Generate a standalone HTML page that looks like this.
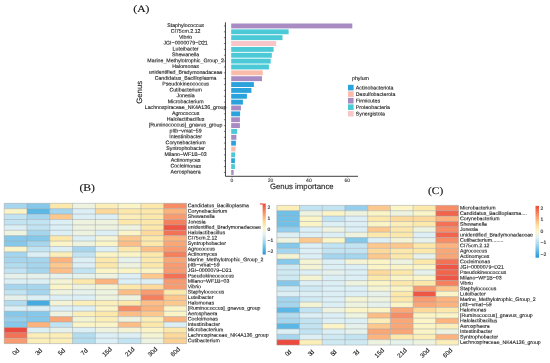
<!DOCTYPE html>
<html><head><meta charset="utf-8"><title>Figure</title>
<style>html,body{margin:0;padding:0;background:#fff}svg{display:block}text{text-rendering:geometricPrecision;font-family:"Liberation Sans",sans-serif;fill:#1c1c1c;stroke:#1c1c1c;stroke-width:0.12px}.s{font-family:"Liberation Serif",serif;fill:#111;stroke:#111;stroke-width:0.15px}</style></head><body>
<svg width="550" height="363" viewBox="0 0 550 363">
<rect width="550" height="363" fill="#fff"/>
<text class="s" transform="translate(133.3,12.0) scale(1,0.85)" font-size="11.6">(A)</text>
<text class="s" transform="translate(79.4,191.1) scale(1,0.87)" font-size="11.7">(B)</text>
<text class="s" transform="translate(428,194.1) scale(1,0.9)" font-size="11.4">(C)</text>
<g>
<rect x="231.2" y="23.50" width="121.1" height="4.9" fill="#A88BC3"/>
<text x="185.6" y="27.00" transform="rotate(0.03 185.6 27.00)" font-size="5.25" text-anchor="middle">Staphylococcus</text>
<line x1="223.9" x2="225.4" y1="25.95" y2="25.95" stroke="#333" stroke-width="0.6"/>
<rect x="231.2" y="29.36" width="57.4" height="4.9" fill="#4CC9D6"/>
<text x="185.6" y="32.86" transform="rotate(0.03 185.6 32.86)" font-size="5.25" text-anchor="middle">CI75cm.2.12</text>
<line x1="223.9" x2="225.4" y1="31.81" y2="31.81" stroke="#333" stroke-width="0.6"/>
<rect x="231.2" y="35.22" width="51.3" height="4.9" fill="#4CC9D6"/>
<text x="185.6" y="38.72" transform="rotate(0.03 185.6 38.72)" font-size="5.25" text-anchor="middle">Vibrio</text>
<line x1="223.9" x2="225.4" y1="37.67" y2="37.67" stroke="#333" stroke-width="0.6"/>
<rect x="231.2" y="41.08" width="45.0" height="4.9" fill="#F8C5C8"/>
<text x="185.6" y="44.58" transform="rotate(0.03 185.6 44.58)" font-size="5.25" text-anchor="middle">JGI−0000079−D21</text>
<line x1="223.9" x2="225.4" y1="43.53" y2="43.53" stroke="#333" stroke-width="0.6"/>
<rect x="231.2" y="46.94" width="42.4" height="4.9" fill="#4CC9D6"/>
<text x="185.6" y="50.44" transform="rotate(0.03 185.6 50.44)" font-size="5.25" text-anchor="middle">Luteibacter</text>
<line x1="223.9" x2="225.4" y1="49.39" y2="49.39" stroke="#333" stroke-width="0.6"/>
<rect x="231.2" y="52.80" width="40.6" height="4.9" fill="#4CC9D6"/>
<text x="185.6" y="56.30" transform="rotate(0.03 185.6 56.30)" font-size="5.25" text-anchor="middle">Shewanella</text>
<line x1="223.9" x2="225.4" y1="55.25" y2="55.25" stroke="#333" stroke-width="0.6"/>
<rect x="231.2" y="58.66" width="39.5" height="4.9" fill="#4CC9D6"/>
<text x="185.6" y="62.16" transform="rotate(0.03 185.6 62.16)" font-size="5.25" text-anchor="middle">Marine_Methylotrophic_Group_2</text>
<line x1="223.9" x2="225.4" y1="61.11" y2="61.11" stroke="#333" stroke-width="0.6"/>
<rect x="231.2" y="64.52" width="37.7" height="4.9" fill="#4CC9D6"/>
<text x="185.6" y="68.02" transform="rotate(0.03 185.6 68.02)" font-size="5.25" text-anchor="middle">Halomonas</text>
<line x1="223.9" x2="225.4" y1="66.97" y2="66.97" stroke="#333" stroke-width="0.6"/>
<rect x="231.2" y="70.38" width="31.6" height="4.9" fill="#FABBAA"/>
<text x="185.6" y="73.88" transform="rotate(0.03 185.6 73.88)" font-size="5.25" text-anchor="middle">unidentified_Bradymonadaceae</text>
<line x1="223.9" x2="225.4" y1="72.83" y2="72.83" stroke="#333" stroke-width="0.6"/>
<rect x="231.2" y="76.24" width="30.8" height="4.9" fill="#A88BC3"/>
<text x="185.6" y="79.74" transform="rotate(0.03 185.6 79.74)" font-size="5.25" text-anchor="middle">Candidatus_Bacilloplasma</text>
<line x1="223.9" x2="225.4" y1="78.69" y2="78.69" stroke="#333" stroke-width="0.6"/>
<rect x="231.2" y="82.10" width="22.7" height="4.9" fill="#2AA2DC"/>
<text x="185.6" y="85.60" transform="rotate(0.03 185.6 85.60)" font-size="5.25" text-anchor="middle">Pseudokineococcus</text>
<line x1="223.9" x2="225.4" y1="84.55" y2="84.55" stroke="#333" stroke-width="0.6"/>
<rect x="231.2" y="87.96" width="20.2" height="4.9" fill="#2AA2DC"/>
<text x="185.6" y="91.46" transform="rotate(0.03 185.6 91.46)" font-size="5.25" text-anchor="middle">Cutibacterium</text>
<line x1="223.9" x2="225.4" y1="90.41" y2="90.41" stroke="#333" stroke-width="0.6"/>
<rect x="231.2" y="93.82" width="15.7" height="4.9" fill="#2AA2DC"/>
<text x="185.6" y="97.32" transform="rotate(0.03 185.6 97.32)" font-size="5.25" text-anchor="middle">Jonesia</text>
<line x1="223.9" x2="225.4" y1="96.27" y2="96.27" stroke="#333" stroke-width="0.6"/>
<rect x="231.2" y="99.68" width="11.7" height="4.9" fill="#2AA2DC"/>
<text x="185.6" y="103.18" transform="rotate(0.03 185.6 103.18)" font-size="5.25" text-anchor="middle">Microbacterium</text>
<line x1="223.9" x2="225.4" y1="102.13" y2="102.13" stroke="#333" stroke-width="0.6"/>
<rect x="231.2" y="105.54" width="9.7" height="4.9" fill="#A88BC3"/>
<text x="185.6" y="109.04" transform="rotate(0.03 185.6 109.04)" font-size="5.25" text-anchor="middle">Lachnospiraceae_NK4A136_group</text>
<line x1="223.9" x2="225.4" y1="107.99" y2="107.99" stroke="#333" stroke-width="0.6"/>
<rect x="231.2" y="111.40" width="8.9" height="4.9" fill="#2AA2DC"/>
<text x="185.6" y="114.90" transform="rotate(0.03 185.6 114.90)" font-size="5.25" text-anchor="middle">Agrococcus</text>
<line x1="223.9" x2="225.4" y1="113.85" y2="113.85" stroke="#333" stroke-width="0.6"/>
<rect x="231.2" y="117.26" width="8.7" height="4.9" fill="#A88BC3"/>
<text x="185.6" y="120.76" transform="rotate(0.03 185.6 120.76)" font-size="5.25" text-anchor="middle">Halolactibacillus</text>
<line x1="223.9" x2="225.4" y1="119.71" y2="119.71" stroke="#333" stroke-width="0.6"/>
<rect x="231.2" y="123.12" width="8.7" height="4.9" fill="#A88BC3"/>
<text x="185.6" y="126.62" transform="rotate(0.03 185.6 126.62)" font-size="5.25" text-anchor="middle">[Ruminococcus]_gnavus_group</text>
<line x1="223.9" x2="225.4" y1="125.57" y2="125.57" stroke="#333" stroke-width="0.6"/>
<rect x="231.2" y="128.98" width="5.9" height="4.9" fill="#4CC9D6"/>
<text x="185.6" y="132.48" transform="rotate(0.03 185.6 132.48)" font-size="5.25" text-anchor="middle">pItb−vmat−59</text>
<line x1="223.9" x2="225.4" y1="131.43" y2="131.43" stroke="#333" stroke-width="0.6"/>
<rect x="231.2" y="134.84" width="5.2" height="4.9" fill="#A88BC3"/>
<text x="185.6" y="138.34" transform="rotate(0.03 185.6 138.34)" font-size="5.25" text-anchor="middle">Intestinibacter</text>
<line x1="223.9" x2="225.4" y1="137.29" y2="137.29" stroke="#333" stroke-width="0.6"/>
<rect x="231.2" y="140.70" width="4.7" height="4.9" fill="#2AA2DC"/>
<text x="185.6" y="144.20" transform="rotate(0.03 185.6 144.20)" font-size="5.25" text-anchor="middle">Corynebacterium</text>
<line x1="223.9" x2="225.4" y1="143.15" y2="143.15" stroke="#333" stroke-width="0.6"/>
<rect x="231.2" y="146.56" width="4.3" height="4.9" fill="#FABBAA"/>
<text x="185.6" y="150.06" transform="rotate(0.03 185.6 150.06)" font-size="5.25" text-anchor="middle">Syntrophobacter</text>
<line x1="223.9" x2="225.4" y1="149.01" y2="149.01" stroke="#333" stroke-width="0.6"/>
<rect x="231.2" y="152.42" width="3.8" height="4.9" fill="#4CC9D6"/>
<text x="185.6" y="155.92" transform="rotate(0.03 185.6 155.92)" font-size="5.25" text-anchor="middle">Milano−WF1B−03</text>
<line x1="223.9" x2="225.4" y1="154.87" y2="154.87" stroke="#333" stroke-width="0.6"/>
<rect x="231.2" y="158.28" width="3.7" height="4.9" fill="#2AA2DC"/>
<text x="185.6" y="161.78" transform="rotate(0.03 185.6 161.78)" font-size="5.25" text-anchor="middle">Actinomyces</text>
<line x1="223.9" x2="225.4" y1="160.73" y2="160.73" stroke="#333" stroke-width="0.6"/>
<rect x="231.2" y="164.14" width="3.7" height="4.9" fill="#4CC9D6"/>
<text x="185.6" y="167.64" transform="rotate(0.03 185.6 167.64)" font-size="5.25" text-anchor="middle">Cocleimonas</text>
<line x1="223.9" x2="225.4" y1="166.59" y2="166.59" stroke="#333" stroke-width="0.6"/>
<rect x="231.2" y="170.00" width="2.4" height="4.9" fill="#A88BC3"/>
<text x="185.6" y="173.50" transform="rotate(0.03 185.6 173.50)" font-size="5.25" text-anchor="middle">Aerosphaera</text>
<line x1="223.9" x2="225.4" y1="172.45" y2="172.45" stroke="#333" stroke-width="0.6"/>
<path d="M225.45 22.4V176.3H358" fill="none" stroke="#2a2a2a" stroke-width="0.9"/>
<line x1="232.0" x2="232.0" y1="176.3" y2="177.5" stroke="#333" stroke-width="0.5"/>
<text x="232.0" y="181.9" font-size="5" text-anchor="middle" style="fill:#3a3a3a;stroke:#3a3a3a">0</text>
<line x1="270.5" x2="270.5" y1="176.3" y2="177.5" stroke="#333" stroke-width="0.5"/>
<text x="270.5" y="181.9" font-size="5" text-anchor="middle" style="fill:#3a3a3a;stroke:#3a3a3a">20</text>
<line x1="308.9" x2="308.9" y1="176.3" y2="177.5" stroke="#333" stroke-width="0.5"/>
<text x="308.9" y="181.9" font-size="5" text-anchor="middle" style="fill:#3a3a3a;stroke:#3a3a3a">40</text>
<line x1="347.3" x2="347.3" y1="176.3" y2="177.5" stroke="#333" stroke-width="0.5"/>
<text x="347.3" y="181.9" font-size="5" text-anchor="middle" style="fill:#3a3a3a;stroke:#3a3a3a">60</text>
<text x="301.8" y="189.2" font-size="7.8" text-anchor="middle">Genus importance</text>
<text transform="translate(141.8,92.3) rotate(-90)" font-size="7.8" text-anchor="middle">Genus</text>
<text x="352" y="80.4" font-size="5.25">phylum</text>
<rect x="348" y="84.8" width="5.6" height="5.6" fill="#2AA2DC"/>
<text x="355.8" y="89.4" transform="rotate(0.03 355.8 89.4)" font-size="5.25">Actinobacteriota</text>
<rect x="348" y="91.3" width="5.6" height="5.6" fill="#FABBAA"/>
<text x="355.8" y="95.9" transform="rotate(0.03 355.8 95.9)" font-size="5.25">Desulfobacterota</text>
<rect x="348" y="97.9" width="5.6" height="5.6" fill="#A88BC3"/>
<text x="355.8" y="102.5" transform="rotate(0.03 355.8 102.5)" font-size="5.25">Firmicutes</text>
<rect x="348" y="104.4" width="5.6" height="5.6" fill="#4CC9D6"/>
<text x="355.8" y="109.0" transform="rotate(0.03 355.8 109.0)" font-size="5.25">Proteobacteria</text>
<rect x="348" y="110.9" width="5.6" height="5.6" fill="#F8C5C8"/>
<text x="355.8" y="115.5" transform="rotate(0.03 355.8 115.5)" font-size="5.25">Synergistota</text>
</g>
<g>
<rect x="4.20" y="203.30" width="22.79" height="5.40" fill="#A5D6EE"/>
<rect x="26.99" y="203.30" width="22.79" height="5.40" fill="#85C8EA"/>
<rect x="49.78" y="203.30" width="22.79" height="5.40" fill="#FDE8AC"/>
<rect x="72.57" y="203.30" width="22.79" height="5.40" fill="#EEF3E0"/>
<rect x="95.36" y="203.30" width="22.79" height="5.40" fill="#FCEEB9"/>
<rect x="118.15" y="203.30" width="22.79" height="5.40" fill="#FBF4C6"/>
<rect x="140.94" y="203.30" width="22.79" height="5.40" fill="#FDE8AC"/>
<rect x="163.73" y="203.30" width="22.79" height="5.40" fill="#F78D66"/>
<text x="187.8" y="207.25" transform="rotate(0.03 187.8 207.25)" font-size="5.2">Candidatus_Bacilloplasma</text>
<rect x="4.20" y="208.70" width="22.79" height="5.40" fill="#FBF4C6"/>
<rect x="26.99" y="208.70" width="22.79" height="5.40" fill="#5BB8E6"/>
<rect x="49.78" y="208.70" width="22.79" height="5.40" fill="#A5D6EE"/>
<rect x="72.57" y="208.70" width="22.79" height="5.40" fill="#DCEFF5"/>
<rect x="95.36" y="208.70" width="22.79" height="5.40" fill="#FDD99B"/>
<rect x="118.15" y="208.70" width="22.79" height="5.40" fill="#FDE8AC"/>
<rect x="140.94" y="208.70" width="22.79" height="5.40" fill="#FDE8AC"/>
<rect x="163.73" y="208.70" width="22.79" height="5.40" fill="#FCB37E"/>
<text x="187.8" y="212.64" transform="rotate(0.03 187.8 212.64)" font-size="5.2">Corynebacterium</text>
<rect x="4.20" y="214.09" width="22.79" height="5.40" fill="#C2E3F1"/>
<rect x="26.99" y="214.09" width="22.79" height="5.40" fill="#A5D6EE"/>
<rect x="49.78" y="214.09" width="22.79" height="5.40" fill="#FDC88E"/>
<rect x="72.57" y="214.09" width="22.79" height="5.40" fill="#DCEFF5"/>
<rect x="95.36" y="214.09" width="22.79" height="5.40" fill="#DCEFF5"/>
<rect x="118.15" y="214.09" width="22.79" height="5.40" fill="#FCEEB9"/>
<rect x="140.94" y="214.09" width="22.79" height="5.40" fill="#FDE8AC"/>
<rect x="163.73" y="214.09" width="22.79" height="5.40" fill="#F99B70"/>
<text x="187.8" y="218.04" transform="rotate(0.03 187.8 218.04)" font-size="5.2">Shewanella</text>
<rect x="4.20" y="219.49" width="22.79" height="5.40" fill="#C2E3F1"/>
<rect x="26.99" y="219.49" width="22.79" height="5.40" fill="#C2E3F1"/>
<rect x="49.78" y="219.49" width="22.79" height="5.40" fill="#DCEFF5"/>
<rect x="72.57" y="219.49" width="22.79" height="5.40" fill="#EEF3E0"/>
<rect x="95.36" y="219.49" width="22.79" height="5.40" fill="#EEF3E0"/>
<rect x="118.15" y="219.49" width="22.79" height="5.40" fill="#FDE8AC"/>
<rect x="140.94" y="219.49" width="22.79" height="5.40" fill="#FDE8AC"/>
<rect x="163.73" y="219.49" width="22.79" height="5.40" fill="#F5805D"/>
<text x="187.8" y="223.44" transform="rotate(0.03 187.8 223.44)" font-size="5.2">Jonesia</text>
<rect x="4.20" y="224.88" width="22.79" height="5.40" fill="#DCEFF5"/>
<rect x="26.99" y="224.88" width="22.79" height="5.40" fill="#C2E3F1"/>
<rect x="49.78" y="224.88" width="22.79" height="5.40" fill="#DCEFF5"/>
<rect x="72.57" y="224.88" width="22.79" height="5.40" fill="#EEF3E0"/>
<rect x="95.36" y="224.88" width="22.79" height="5.40" fill="#EEF3E0"/>
<rect x="118.15" y="224.88" width="22.79" height="5.40" fill="#EEF3E0"/>
<rect x="140.94" y="224.88" width="22.79" height="5.40" fill="#FDE8AC"/>
<rect x="163.73" y="224.88" width="22.79" height="5.40" fill="#EE5745"/>
<text x="187.8" y="228.83" transform="rotate(0.03 187.8 228.83)" font-size="5.2">unidentified_Bradymonadaceae</text>
<rect x="4.20" y="230.28" width="22.79" height="5.40" fill="#EEF3E0"/>
<rect x="26.99" y="230.28" width="22.79" height="5.40" fill="#A5D6EE"/>
<rect x="49.78" y="230.28" width="22.79" height="5.40" fill="#DCEFF5"/>
<rect x="72.57" y="230.28" width="22.79" height="5.40" fill="#EEF3E0"/>
<rect x="95.36" y="230.28" width="22.79" height="5.40" fill="#DCEFF5"/>
<rect x="118.15" y="230.28" width="22.79" height="5.40" fill="#FBF4C6"/>
<rect x="140.94" y="230.28" width="22.79" height="5.40" fill="#FDD99B"/>
<rect x="163.73" y="230.28" width="22.79" height="5.40" fill="#F37255"/>
<text x="187.8" y="234.23" transform="rotate(0.03 187.8 234.23)" font-size="5.2">Halolactibacillus</text>
<rect x="4.20" y="235.68" width="22.79" height="5.40" fill="#85C8EA"/>
<rect x="26.99" y="235.68" width="22.79" height="5.40" fill="#85C8EA"/>
<rect x="49.78" y="235.68" width="22.79" height="5.40" fill="#FDE8AC"/>
<rect x="72.57" y="235.68" width="22.79" height="5.40" fill="#DCEFF5"/>
<rect x="95.36" y="235.68" width="22.79" height="5.40" fill="#F4F3D3"/>
<rect x="118.15" y="235.68" width="22.79" height="5.40" fill="#FDC88E"/>
<rect x="140.94" y="235.68" width="22.79" height="5.40" fill="#FDE8AC"/>
<rect x="163.73" y="235.68" width="22.79" height="5.40" fill="#FCB37E"/>
<text x="187.8" y="239.62" transform="rotate(0.03 187.8 239.62)" font-size="5.2">CI75cm.2.12</text>
<rect x="4.20" y="241.07" width="22.79" height="5.40" fill="#85C8EA"/>
<rect x="26.99" y="241.07" width="22.79" height="5.40" fill="#A5D6EE"/>
<rect x="49.78" y="241.07" width="22.79" height="5.40" fill="#FBF4C6"/>
<rect x="72.57" y="241.07" width="22.79" height="5.40" fill="#EEF3E0"/>
<rect x="95.36" y="241.07" width="22.79" height="5.40" fill="#FBF4C6"/>
<rect x="118.15" y="241.07" width="22.79" height="5.40" fill="#FCBD86"/>
<rect x="140.94" y="241.07" width="22.79" height="5.40" fill="#FDE8AC"/>
<rect x="163.73" y="241.07" width="22.79" height="5.40" fill="#FAA777"/>
<text x="187.8" y="245.02" transform="rotate(0.03 187.8 245.02)" font-size="5.2">Syntrophobacter</text>
<rect x="4.20" y="246.47" width="22.79" height="5.40" fill="#FBF4C6"/>
<rect x="26.99" y="246.47" width="22.79" height="5.40" fill="#C2E3F1"/>
<rect x="49.78" y="246.47" width="22.79" height="5.40" fill="#DCEFF5"/>
<rect x="72.57" y="246.47" width="22.79" height="5.40" fill="#A5D6EE"/>
<rect x="95.36" y="246.47" width="22.79" height="5.40" fill="#DCEFF5"/>
<rect x="118.15" y="246.47" width="22.79" height="5.40" fill="#FDE8AC"/>
<rect x="140.94" y="246.47" width="22.79" height="5.40" fill="#FCBD86"/>
<rect x="163.73" y="246.47" width="22.79" height="5.40" fill="#F99B70"/>
<text x="187.8" y="250.42" transform="rotate(0.03 187.8 250.42)" font-size="5.2">Agrococcus</text>
<rect x="4.20" y="251.86" width="22.79" height="5.40" fill="#A5D6EE"/>
<rect x="26.99" y="251.86" width="22.79" height="5.40" fill="#DCEFF5"/>
<rect x="49.78" y="251.86" width="22.79" height="5.40" fill="#FCEEB9"/>
<rect x="72.57" y="251.86" width="22.79" height="5.40" fill="#C2E3F1"/>
<rect x="95.36" y="251.86" width="22.79" height="5.40" fill="#FBF4C6"/>
<rect x="118.15" y="251.86" width="22.79" height="5.40" fill="#FBF4C6"/>
<rect x="140.94" y="251.86" width="22.79" height="5.40" fill="#FDE8AC"/>
<rect x="163.73" y="251.86" width="22.79" height="5.40" fill="#F5805D"/>
<text x="187.8" y="255.81" transform="rotate(0.03 187.8 255.81)" font-size="5.2">Actinomyces</text>
<rect x="4.20" y="257.26" width="22.79" height="5.40" fill="#A5D6EE"/>
<rect x="26.99" y="257.26" width="22.79" height="5.40" fill="#A5D6EE"/>
<rect x="49.78" y="257.26" width="22.79" height="5.40" fill="#FCB37E"/>
<rect x="72.57" y="257.26" width="22.79" height="5.40" fill="#DCEFF5"/>
<rect x="95.36" y="257.26" width="22.79" height="5.40" fill="#FDE8AC"/>
<rect x="118.15" y="257.26" width="22.79" height="5.40" fill="#E5F1EA"/>
<rect x="140.94" y="257.26" width="22.79" height="5.40" fill="#FDE8AC"/>
<rect x="163.73" y="257.26" width="22.79" height="5.40" fill="#FAA777"/>
<text x="187.8" y="261.21" transform="rotate(0.03 187.8 261.21)" font-size="5.2">Marine_Methylotrophic_Group_2</text>
<rect x="4.20" y="262.66" width="22.79" height="5.40" fill="#B3DCEF"/>
<rect x="26.99" y="262.66" width="22.79" height="5.40" fill="#A5D6EE"/>
<rect x="49.78" y="262.66" width="22.79" height="5.40" fill="#FDC88E"/>
<rect x="72.57" y="262.66" width="22.79" height="5.40" fill="#DCEFF5"/>
<rect x="95.36" y="262.66" width="22.79" height="5.40" fill="#FDE8AC"/>
<rect x="118.15" y="262.66" width="22.79" height="5.40" fill="#EEF3E0"/>
<rect x="140.94" y="262.66" width="22.79" height="5.40" fill="#FDE8AC"/>
<rect x="163.73" y="262.66" width="22.79" height="5.40" fill="#F99B70"/>
<text x="187.8" y="266.60" transform="rotate(0.03 187.8 266.60)" font-size="5.2">pItb−vmat−59</text>
<rect x="4.20" y="268.05" width="22.79" height="5.40" fill="#C2E3F1"/>
<rect x="26.99" y="268.05" width="22.79" height="5.40" fill="#A5D6EE"/>
<rect x="49.78" y="268.05" width="22.79" height="5.40" fill="#FCBD86"/>
<rect x="72.57" y="268.05" width="22.79" height="5.40" fill="#C2E3F1"/>
<rect x="95.36" y="268.05" width="22.79" height="5.40" fill="#FBF4C6"/>
<rect x="118.15" y="268.05" width="22.79" height="5.40" fill="#FBF4C6"/>
<rect x="140.94" y="268.05" width="22.79" height="5.40" fill="#FBF4C6"/>
<rect x="163.73" y="268.05" width="22.79" height="5.40" fill="#F99B70"/>
<text x="187.8" y="272.00" transform="rotate(0.03 187.8 272.00)" font-size="5.2">JGI−0000079−D21</text>
<rect x="4.20" y="273.45" width="22.79" height="5.40" fill="#E5F1EA"/>
<rect x="26.99" y="273.45" width="22.79" height="5.40" fill="#E5F1EA"/>
<rect x="49.78" y="273.45" width="22.79" height="5.40" fill="#E5F1EA"/>
<rect x="72.57" y="273.45" width="22.79" height="5.40" fill="#E5F1EA"/>
<rect x="95.36" y="273.45" width="22.79" height="5.40" fill="#EEF3E0"/>
<rect x="118.15" y="273.45" width="22.79" height="5.40" fill="#DCEFF5"/>
<rect x="140.94" y="273.45" width="22.79" height="5.40" fill="#FDC88E"/>
<rect x="163.73" y="273.45" width="22.79" height="5.40" fill="#F37255"/>
<text x="187.8" y="277.40" transform="rotate(0.03 187.8 277.40)" font-size="5.2">Pseudokineococcus</text>
<rect x="4.20" y="278.84" width="22.79" height="5.40" fill="#DCEFF5"/>
<rect x="26.99" y="278.84" width="22.79" height="5.40" fill="#DCEFF5"/>
<rect x="49.78" y="278.84" width="22.79" height="5.40" fill="#F4F3D3"/>
<rect x="72.57" y="278.84" width="22.79" height="5.40" fill="#FDE8AC"/>
<rect x="95.36" y="278.84" width="22.79" height="5.40" fill="#FCB37E"/>
<rect x="118.15" y="278.84" width="22.79" height="5.40" fill="#DCEFF5"/>
<rect x="140.94" y="278.84" width="22.79" height="5.40" fill="#DCEFF5"/>
<rect x="163.73" y="278.84" width="22.79" height="5.40" fill="#F99B70"/>
<text x="187.8" y="282.79" transform="rotate(0.03 187.8 282.79)" font-size="5.2">Milano−WF1B−03</text>
<rect x="4.20" y="284.24" width="22.79" height="5.40" fill="#A5D6EE"/>
<rect x="26.99" y="284.24" width="22.79" height="5.40" fill="#A5D6EE"/>
<rect x="49.78" y="284.24" width="22.79" height="5.40" fill="#FBF4C6"/>
<rect x="72.57" y="284.24" width="22.79" height="5.40" fill="#EEF3E0"/>
<rect x="95.36" y="284.24" width="22.79" height="5.40" fill="#F4F3D3"/>
<rect x="118.15" y="284.24" width="22.79" height="5.40" fill="#FDE8AC"/>
<rect x="140.94" y="284.24" width="22.79" height="5.40" fill="#FDD99B"/>
<rect x="163.73" y="284.24" width="22.79" height="5.40" fill="#F99B70"/>
<text x="187.8" y="288.19" transform="rotate(0.03 187.8 288.19)" font-size="5.2">Vibrio</text>
<rect x="4.20" y="289.64" width="22.79" height="5.40" fill="#C2E3F1"/>
<rect x="26.99" y="289.64" width="22.79" height="5.40" fill="#A5D6EE"/>
<rect x="49.78" y="289.64" width="22.79" height="5.40" fill="#EEF3E0"/>
<rect x="72.57" y="289.64" width="22.79" height="5.40" fill="#E5F1EA"/>
<rect x="95.36" y="289.64" width="22.79" height="5.40" fill="#EEF3E0"/>
<rect x="118.15" y="289.64" width="22.79" height="5.40" fill="#FCBD86"/>
<rect x="140.94" y="289.64" width="22.79" height="5.40" fill="#F99B70"/>
<rect x="163.73" y="289.64" width="22.79" height="5.40" fill="#FDE8AC"/>
<text x="187.8" y="293.58" transform="rotate(0.03 187.8 293.58)" font-size="5.2">Staphylococcus</text>
<rect x="4.20" y="295.03" width="22.79" height="5.40" fill="#E5F1EA"/>
<rect x="26.99" y="295.03" width="22.79" height="5.40" fill="#DCEFF5"/>
<rect x="49.78" y="295.03" width="22.79" height="5.40" fill="#DCEFF5"/>
<rect x="72.57" y="295.03" width="22.79" height="5.40" fill="#DCEFF5"/>
<rect x="95.36" y="295.03" width="22.79" height="5.40" fill="#EEF3E0"/>
<rect x="118.15" y="295.03" width="22.79" height="5.40" fill="#EEF3E0"/>
<rect x="140.94" y="295.03" width="22.79" height="5.40" fill="#F5805D"/>
<rect x="163.73" y="295.03" width="22.79" height="5.40" fill="#FDC88E"/>
<text x="187.8" y="298.98" transform="rotate(0.03 187.8 298.98)" font-size="5.2">Luteibacter</text>
<rect x="4.20" y="300.43" width="22.79" height="5.40" fill="#B3DCEF"/>
<rect x="26.99" y="300.43" width="22.79" height="5.40" fill="#46ABE0"/>
<rect x="49.78" y="300.43" width="22.79" height="5.40" fill="#F4F3D3"/>
<rect x="72.57" y="300.43" width="22.79" height="5.40" fill="#FCEEB9"/>
<rect x="95.36" y="300.43" width="22.79" height="5.40" fill="#FCEEB9"/>
<rect x="118.15" y="300.43" width="22.79" height="5.40" fill="#FDE8AC"/>
<rect x="140.94" y="300.43" width="22.79" height="5.40" fill="#FCBD86"/>
<rect x="163.73" y="300.43" width="22.79" height="5.40" fill="#FDC88E"/>
<text x="187.8" y="304.38" transform="rotate(0.03 187.8 304.38)" font-size="5.2">Halomonas</text>
<rect x="4.20" y="305.82" width="22.79" height="5.40" fill="#DCEFF5"/>
<rect x="26.99" y="305.82" width="22.79" height="5.40" fill="#DCEFF5"/>
<rect x="49.78" y="305.82" width="22.79" height="5.40" fill="#DCEFF5"/>
<rect x="72.57" y="305.82" width="22.79" height="5.40" fill="#DCEFF5"/>
<rect x="95.36" y="305.82" width="22.79" height="5.40" fill="#FBF4C6"/>
<rect x="118.15" y="305.82" width="22.79" height="5.40" fill="#F78D66"/>
<rect x="140.94" y="305.82" width="22.79" height="5.40" fill="#FCB37E"/>
<rect x="163.73" y="305.82" width="22.79" height="5.40" fill="#FBF4C6"/>
<text x="187.8" y="309.77" transform="rotate(0.03 187.8 309.77)" font-size="5.2">[Ruminococcus]_gnavus_group</text>
<rect x="4.20" y="311.22" width="22.79" height="5.40" fill="#85C8EA"/>
<rect x="26.99" y="311.22" width="22.79" height="5.40" fill="#85C8EA"/>
<rect x="49.78" y="311.22" width="22.79" height="5.40" fill="#EEF3E0"/>
<rect x="72.57" y="311.22" width="22.79" height="5.40" fill="#FCEEB9"/>
<rect x="95.36" y="311.22" width="22.79" height="5.40" fill="#FDE8AC"/>
<rect x="118.15" y="311.22" width="22.79" height="5.40" fill="#FCBD86"/>
<rect x="140.94" y="311.22" width="22.79" height="5.40" fill="#FDC88E"/>
<rect x="163.73" y="311.22" width="22.79" height="5.40" fill="#FBF4C6"/>
<text x="187.8" y="315.17" transform="rotate(0.03 187.8 315.17)" font-size="5.2">Aerosphaera</text>
<rect x="4.20" y="316.62" width="22.79" height="5.40" fill="#95CFEC"/>
<rect x="26.99" y="316.62" width="22.79" height="5.40" fill="#85C8EA"/>
<rect x="49.78" y="316.62" width="22.79" height="5.40" fill="#FAA777"/>
<rect x="72.57" y="316.62" width="22.79" height="5.40" fill="#F4F3D3"/>
<rect x="95.36" y="316.62" width="22.79" height="5.40" fill="#FCEEB9"/>
<rect x="118.15" y="316.62" width="22.79" height="5.40" fill="#EEF3E0"/>
<rect x="140.94" y="316.62" width="22.79" height="5.40" fill="#FCEEB9"/>
<rect x="163.73" y="316.62" width="22.79" height="5.40" fill="#FCB37E"/>
<text x="187.8" y="320.56" transform="rotate(0.03 187.8 320.56)" font-size="5.2">Cocleimonas</text>
<rect x="4.20" y="322.01" width="22.79" height="5.40" fill="#85C8EA"/>
<rect x="26.99" y="322.01" width="22.79" height="5.40" fill="#FCB37E"/>
<rect x="49.78" y="322.01" width="22.79" height="5.40" fill="#C2E3F1"/>
<rect x="72.57" y="322.01" width="22.79" height="5.40" fill="#FBF4C6"/>
<rect x="95.36" y="322.01" width="22.79" height="5.40" fill="#FBF4C6"/>
<rect x="118.15" y="322.01" width="22.79" height="5.40" fill="#FCBD86"/>
<rect x="140.94" y="322.01" width="22.79" height="5.40" fill="#FDE8AC"/>
<rect x="163.73" y="322.01" width="22.79" height="5.40" fill="#DCEFF5"/>
<text x="187.8" y="325.96" transform="rotate(0.03 187.8 325.96)" font-size="5.2">Intestinibacter</text>
<rect x="4.20" y="327.41" width="22.79" height="5.40" fill="#EC4A3E"/>
<rect x="26.99" y="327.41" width="22.79" height="5.40" fill="#DCEFF5"/>
<rect x="49.78" y="327.41" width="22.79" height="5.40" fill="#E5F1EA"/>
<rect x="72.57" y="327.41" width="22.79" height="5.40" fill="#DCEFF5"/>
<rect x="95.36" y="327.41" width="22.79" height="5.40" fill="#EEF3E0"/>
<rect x="118.15" y="327.41" width="22.79" height="5.40" fill="#F4F3D3"/>
<rect x="140.94" y="327.41" width="22.79" height="5.40" fill="#FBF4C6"/>
<rect x="163.73" y="327.41" width="22.79" height="5.40" fill="#FDE8AC"/>
<text x="187.8" y="331.36" transform="rotate(0.03 187.8 331.36)" font-size="5.2">Microbacterium</text>
<rect x="4.20" y="332.80" width="22.79" height="5.40" fill="#F37255"/>
<rect x="26.99" y="332.80" width="22.79" height="5.40" fill="#FCEEB9"/>
<rect x="49.78" y="332.80" width="22.79" height="5.40" fill="#FCEEB9"/>
<rect x="72.57" y="332.80" width="22.79" height="5.40" fill="#B3DCEF"/>
<rect x="95.36" y="332.80" width="22.79" height="5.40" fill="#DCEFF5"/>
<rect x="118.15" y="332.80" width="22.79" height="5.40" fill="#DCEFF5"/>
<rect x="140.94" y="332.80" width="22.79" height="5.40" fill="#F4F3D3"/>
<rect x="163.73" y="332.80" width="22.79" height="5.40" fill="#FDD99B"/>
<text x="187.8" y="336.75" transform="rotate(0.03 187.8 336.75)" font-size="5.2">Lachnospiraceae_NK4A136_group</text>
<rect x="4.20" y="338.20" width="22.79" height="5.40" fill="#F99B70"/>
<rect x="26.99" y="338.20" width="22.79" height="5.40" fill="#FCEEB9"/>
<rect x="49.78" y="338.20" width="22.79" height="5.40" fill="#FCEEB9"/>
<rect x="72.57" y="338.20" width="22.79" height="5.40" fill="#B3DCEF"/>
<rect x="95.36" y="338.20" width="22.79" height="5.40" fill="#DCEFF5"/>
<rect x="118.15" y="338.20" width="22.79" height="5.40" fill="#C2E3F1"/>
<rect x="140.94" y="338.20" width="22.79" height="5.40" fill="#EEF3E0"/>
<rect x="163.73" y="338.20" width="22.79" height="5.40" fill="#FDD094"/>
<text x="187.8" y="342.15" transform="rotate(0.03 187.8 342.15)" font-size="5.2">Cutibacterium</text>
<path d="M4.20 203.30H186.52M4.20 208.70H186.52M4.20 214.09H186.52M4.20 219.49H186.52M4.20 224.88H186.52M4.20 230.28H186.52M4.20 235.68H186.52M4.20 241.07H186.52M4.20 246.47H186.52M4.20 251.86H186.52M4.20 257.26H186.52M4.20 262.66H186.52M4.20 268.05H186.52M4.20 273.45H186.52M4.20 278.84H186.52M4.20 284.24H186.52M4.20 289.64H186.52M4.20 295.03H186.52M4.20 300.43H186.52M4.20 305.82H186.52M4.20 311.22H186.52M4.20 316.62H186.52M4.20 322.01H186.52M4.20 327.41H186.52M4.20 332.80H186.52M4.20 338.20H186.52M4.20 343.60H186.52M4.20 203.30V343.60M26.99 203.30V343.60M49.78 203.30V343.60M72.57 203.30V343.60M95.36 203.30V343.60M118.15 203.30V343.60M140.94 203.30V343.60M163.73 203.30V343.60M186.52 203.30V343.60" fill="none" stroke="#9ba0a4" stroke-width="0.5"/>
<text transform="translate(17.3,353.4) rotate(-45)" font-size="6.3" text-anchor="middle">0d</text>
<text transform="translate(40.1,353.4) rotate(-45)" font-size="6.3" text-anchor="middle">3d</text>
<text transform="translate(62.9,353.4) rotate(-45)" font-size="6.3" text-anchor="middle">5d</text>
<text transform="translate(85.7,353.4) rotate(-45)" font-size="6.3" text-anchor="middle">7d</text>
<text transform="translate(108.5,353.4) rotate(-45)" font-size="6.3" text-anchor="middle">15d</text>
<text transform="translate(131.2,353.4) rotate(-45)" font-size="6.3" text-anchor="middle">21d</text>
<text transform="translate(154.0,353.4) rotate(-45)" font-size="6.3" text-anchor="middle">30d</text>
<text transform="translate(176.8,353.4) rotate(-45)" font-size="6.3" text-anchor="middle">60d</text>
</g>
<g>
<rect x="276.85" y="205.35" width="22.71" height="5.37" fill="#FCEEB9"/>
<rect x="299.56" y="205.35" width="22.71" height="5.37" fill="#C2E3F1"/>
<rect x="322.27" y="205.35" width="22.71" height="5.37" fill="#C2E3F1"/>
<rect x="344.98" y="205.35" width="22.71" height="5.37" fill="#95CFEC"/>
<rect x="367.69" y="205.35" width="22.71" height="5.37" fill="#FDC88E"/>
<rect x="390.40" y="205.35" width="22.71" height="5.37" fill="#FBF4C6"/>
<rect x="413.11" y="205.35" width="22.71" height="5.37" fill="#FDE8AC"/>
<rect x="435.82" y="205.35" width="22.71" height="5.37" fill="#F78D66"/>
<text x="460" y="209.54" transform="rotate(0.03 460 209.54)" font-size="5.2">Microbacterium</text>
<rect x="276.85" y="210.72" width="22.71" height="5.37" fill="#70C0E8"/>
<rect x="299.56" y="210.72" width="22.71" height="5.37" fill="#EEF3E0"/>
<rect x="322.27" y="210.72" width="22.71" height="5.37" fill="#FBF4C6"/>
<rect x="344.98" y="210.72" width="22.71" height="5.37" fill="#EEF3E0"/>
<rect x="367.69" y="210.72" width="22.71" height="5.37" fill="#FBF4C6"/>
<rect x="390.40" y="210.72" width="22.71" height="5.37" fill="#EEF3E0"/>
<rect x="413.11" y="210.72" width="22.71" height="5.37" fill="#FBF4C6"/>
<rect x="435.82" y="210.72" width="22.71" height="5.37" fill="#F1654D"/>
<text x="460" y="214.91" transform="rotate(0.03 460 214.91)" font-size="5.2">Candidatus_Bacilloplasma....</text>
<rect x="276.85" y="216.10" width="22.71" height="5.37" fill="#70C0E8"/>
<rect x="299.56" y="216.10" width="22.71" height="5.37" fill="#FBF4C6"/>
<rect x="322.27" y="216.10" width="22.71" height="5.37" fill="#C2E3F1"/>
<rect x="344.98" y="216.10" width="22.71" height="5.37" fill="#DCEFF5"/>
<rect x="367.69" y="216.10" width="22.71" height="5.37" fill="#FDE8AC"/>
<rect x="390.40" y="216.10" width="22.71" height="5.37" fill="#FDD99B"/>
<rect x="413.11" y="216.10" width="22.71" height="5.37" fill="#FDD99B"/>
<rect x="435.82" y="216.10" width="22.71" height="5.37" fill="#FCB37E"/>
<text x="460" y="220.28" transform="rotate(0.03 460 220.28)" font-size="5.2">Corynebacterium</text>
<rect x="276.85" y="221.47" width="22.71" height="5.37" fill="#70C0E8"/>
<rect x="299.56" y="221.47" width="22.71" height="5.37" fill="#FBF4C6"/>
<rect x="322.27" y="221.47" width="22.71" height="5.37" fill="#DCEFF5"/>
<rect x="344.98" y="221.47" width="22.71" height="5.37" fill="#DCEFF5"/>
<rect x="367.69" y="221.47" width="22.71" height="5.37" fill="#FBF4C6"/>
<rect x="390.40" y="221.47" width="22.71" height="5.37" fill="#FCEEB9"/>
<rect x="413.11" y="221.47" width="22.71" height="5.37" fill="#FDE8AC"/>
<rect x="435.82" y="221.47" width="22.71" height="5.37" fill="#F37255"/>
<text x="460" y="225.66" transform="rotate(0.03 460 225.66)" font-size="5.2">Shewanella</text>
<rect x="276.85" y="226.84" width="22.71" height="5.37" fill="#95CFEC"/>
<rect x="299.56" y="226.84" width="22.71" height="5.37" fill="#DCEFF5"/>
<rect x="322.27" y="226.84" width="22.71" height="5.37" fill="#EEF3E0"/>
<rect x="344.98" y="226.84" width="22.71" height="5.37" fill="#DCEFF5"/>
<rect x="367.69" y="226.84" width="22.71" height="5.37" fill="#FDC88E"/>
<rect x="390.40" y="226.84" width="22.71" height="5.37" fill="#FDE8AC"/>
<rect x="413.11" y="226.84" width="22.71" height="5.37" fill="#EEF3E0"/>
<rect x="435.82" y="226.84" width="22.71" height="5.37" fill="#F78D66"/>
<text x="460" y="231.03" transform="rotate(0.03 460 231.03)" font-size="5.2">Jonesia</text>
<rect x="276.85" y="232.22" width="22.71" height="5.37" fill="#DCEFF5"/>
<rect x="299.56" y="232.22" width="22.71" height="5.37" fill="#DCEFF5"/>
<rect x="322.27" y="232.22" width="22.71" height="5.37" fill="#DCEFF5"/>
<rect x="344.98" y="232.22" width="22.71" height="5.37" fill="#EEF3E0"/>
<rect x="367.69" y="232.22" width="22.71" height="5.37" fill="#FDE8AC"/>
<rect x="390.40" y="232.22" width="22.71" height="5.37" fill="#FDE8AC"/>
<rect x="413.11" y="232.22" width="22.71" height="5.37" fill="#DCEFF5"/>
<rect x="435.82" y="232.22" width="22.71" height="5.37" fill="#F1654D"/>
<text x="460" y="236.40" transform="rotate(0.03 460 236.40)" font-size="5.2">unidentified_Bradymonadaceae</text>
<rect x="276.85" y="237.59" width="22.71" height="5.37" fill="#EEF3E0"/>
<rect x="299.56" y="237.59" width="22.71" height="5.37" fill="#FDC88E"/>
<rect x="322.27" y="237.59" width="22.71" height="5.37" fill="#FBF4C6"/>
<rect x="344.98" y="237.59" width="22.71" height="5.37" fill="#85C8EA"/>
<rect x="367.69" y="237.59" width="22.71" height="5.37" fill="#DCEFF5"/>
<rect x="390.40" y="237.59" width="22.71" height="5.37" fill="#F4F3D3"/>
<rect x="413.11" y="237.59" width="22.71" height="5.37" fill="#E5F1EA"/>
<rect x="435.82" y="237.59" width="22.71" height="5.37" fill="#F78D66"/>
<text x="460" y="241.77" transform="rotate(0.03 460 241.77)" font-size="5.2">Cutibacterium........</text>
<rect x="276.85" y="242.96" width="22.71" height="5.37" fill="#85C8EA"/>
<rect x="299.56" y="242.96" width="22.71" height="5.37" fill="#DCEFF5"/>
<rect x="322.27" y="242.96" width="22.71" height="5.37" fill="#C2E3F1"/>
<rect x="344.98" y="242.96" width="22.71" height="5.37" fill="#C2E3F1"/>
<rect x="367.69" y="242.96" width="22.71" height="5.37" fill="#FDC88E"/>
<rect x="390.40" y="242.96" width="22.71" height="5.37" fill="#FDC88E"/>
<rect x="413.11" y="242.96" width="22.71" height="5.37" fill="#FDE8AC"/>
<rect x="435.82" y="242.96" width="22.71" height="5.37" fill="#FCB37E"/>
<text x="460" y="247.15" transform="rotate(0.03 460 247.15)" font-size="5.2">CI75cm.2.12</text>
<rect x="276.85" y="248.33" width="22.71" height="5.37" fill="#A5D6EE"/>
<rect x="299.56" y="248.33" width="22.71" height="5.37" fill="#DCEFF5"/>
<rect x="322.27" y="248.33" width="22.71" height="5.37" fill="#C2E3F1"/>
<rect x="344.98" y="248.33" width="22.71" height="5.37" fill="#C2E3F1"/>
<rect x="367.69" y="248.33" width="22.71" height="5.37" fill="#FDD99B"/>
<rect x="390.40" y="248.33" width="22.71" height="5.37" fill="#FDE8AC"/>
<rect x="413.11" y="248.33" width="22.71" height="5.37" fill="#FDE8AC"/>
<rect x="435.82" y="248.33" width="22.71" height="5.37" fill="#FAA777"/>
<text x="460" y="252.52" transform="rotate(0.03 460 252.52)" font-size="5.2">Agrococcus</text>
<rect x="276.85" y="253.71" width="22.71" height="5.37" fill="#F4F3D3"/>
<rect x="299.56" y="253.71" width="22.71" height="5.37" fill="#DCEFF5"/>
<rect x="322.27" y="253.71" width="22.71" height="5.37" fill="#A5D6EE"/>
<rect x="344.98" y="253.71" width="22.71" height="5.37" fill="#A5D6EE"/>
<rect x="367.69" y="253.71" width="22.71" height="5.37" fill="#FDC88E"/>
<rect x="390.40" y="253.71" width="22.71" height="5.37" fill="#FDE8AC"/>
<rect x="413.11" y="253.71" width="22.71" height="5.37" fill="#E5F1EA"/>
<rect x="435.82" y="253.71" width="22.71" height="5.37" fill="#FAA777"/>
<text x="460" y="257.89" transform="rotate(0.03 460 257.89)" font-size="5.2">Actinomyces</text>
<rect x="276.85" y="259.08" width="22.71" height="5.37" fill="#85C8EA"/>
<rect x="299.56" y="259.08" width="22.71" height="5.37" fill="#F4F3D3"/>
<rect x="322.27" y="259.08" width="22.71" height="5.37" fill="#DCEFF5"/>
<rect x="344.98" y="259.08" width="22.71" height="5.37" fill="#F4F3D3"/>
<rect x="367.69" y="259.08" width="22.71" height="5.37" fill="#FBF4C6"/>
<rect x="390.40" y="259.08" width="22.71" height="5.37" fill="#EEF3E0"/>
<rect x="413.11" y="259.08" width="22.71" height="5.37" fill="#FDE8AC"/>
<rect x="435.82" y="259.08" width="22.71" height="5.37" fill="#F37255"/>
<text x="460" y="263.27" transform="rotate(0.03 460 263.27)" font-size="5.2">Cocleimonas</text>
<rect x="276.85" y="264.45" width="22.71" height="5.37" fill="#CFE9F3"/>
<rect x="299.56" y="264.45" width="22.71" height="5.37" fill="#F4F3D3"/>
<rect x="322.27" y="264.45" width="22.71" height="5.37" fill="#DCEFF5"/>
<rect x="344.98" y="264.45" width="22.71" height="5.37" fill="#DCEFF5"/>
<rect x="367.69" y="264.45" width="22.71" height="5.37" fill="#FBF4C6"/>
<rect x="390.40" y="264.45" width="22.71" height="5.37" fill="#FBF4C6"/>
<rect x="413.11" y="264.45" width="22.71" height="5.37" fill="#FBF4C6"/>
<rect x="435.82" y="264.45" width="22.71" height="5.37" fill="#EE5745"/>
<text x="460" y="268.64" transform="rotate(0.03 460 268.64)" font-size="5.2">JGI−0000079−D21</text>
<rect x="276.85" y="269.83" width="22.71" height="5.37" fill="#CFE9F3"/>
<rect x="299.56" y="269.83" width="22.71" height="5.37" fill="#DCEFF5"/>
<rect x="322.27" y="269.83" width="22.71" height="5.37" fill="#E5F1EA"/>
<rect x="344.98" y="269.83" width="22.71" height="5.37" fill="#DCEFF5"/>
<rect x="367.69" y="269.83" width="22.71" height="5.37" fill="#FDD99B"/>
<rect x="390.40" y="269.83" width="22.71" height="5.37" fill="#FDE8AC"/>
<rect x="413.11" y="269.83" width="22.71" height="5.37" fill="#E5F1EA"/>
<rect x="435.82" y="269.83" width="22.71" height="5.37" fill="#F1654D"/>
<text x="460" y="274.01" transform="rotate(0.03 460 274.01)" font-size="5.2">Pseudokineococcus</text>
<rect x="276.85" y="275.20" width="22.71" height="5.37" fill="#CFE9F3"/>
<rect x="299.56" y="275.20" width="22.71" height="5.37" fill="#F4F3D3"/>
<rect x="322.27" y="275.20" width="22.71" height="5.37" fill="#DCEFF5"/>
<rect x="344.98" y="275.20" width="22.71" height="5.37" fill="#DCEFF5"/>
<rect x="367.69" y="275.20" width="22.71" height="5.37" fill="#FDE8AC"/>
<rect x="390.40" y="275.20" width="22.71" height="5.37" fill="#FBF4C6"/>
<rect x="413.11" y="275.20" width="22.71" height="5.37" fill="#FBF4C6"/>
<rect x="435.82" y="275.20" width="22.71" height="5.37" fill="#EE5745"/>
<text x="460" y="279.39" transform="rotate(0.03 460 279.39)" font-size="5.2">Milano−WF1B−03</text>
<rect x="276.85" y="280.57" width="22.71" height="5.37" fill="#85C8EA"/>
<rect x="299.56" y="280.57" width="22.71" height="5.37" fill="#DCEFF5"/>
<rect x="322.27" y="280.57" width="22.71" height="5.37" fill="#DCEFF5"/>
<rect x="344.98" y="280.57" width="22.71" height="5.37" fill="#EEF3E0"/>
<rect x="367.69" y="280.57" width="22.71" height="5.37" fill="#FBF4C6"/>
<rect x="390.40" y="280.57" width="22.71" height="5.37" fill="#FDE8AC"/>
<rect x="413.11" y="280.57" width="22.71" height="5.37" fill="#FDE8AC"/>
<rect x="435.82" y="280.57" width="22.71" height="5.37" fill="#F5805D"/>
<text x="460" y="284.76" transform="rotate(0.03 460 284.76)" font-size="5.2">Vibrio</text>
<rect x="276.85" y="285.94" width="22.71" height="5.37" fill="#CFE9F3"/>
<rect x="299.56" y="285.94" width="22.71" height="5.37" fill="#CFE9F3"/>
<rect x="322.27" y="285.94" width="22.71" height="5.37" fill="#DCEFF5"/>
<rect x="344.98" y="285.94" width="22.71" height="5.37" fill="#DCEFF5"/>
<rect x="367.69" y="285.94" width="22.71" height="5.37" fill="#F4F3D3"/>
<rect x="390.40" y="285.94" width="22.71" height="5.37" fill="#FBF4C6"/>
<rect x="413.11" y="285.94" width="22.71" height="5.37" fill="#F99B70"/>
<rect x="435.82" y="285.94" width="22.71" height="5.37" fill="#FDC88E"/>
<text x="460" y="290.13" transform="rotate(0.03 460 290.13)" font-size="5.2">Staphylococcus</text>
<rect x="276.85" y="291.32" width="22.71" height="5.37" fill="#DCEFF5"/>
<rect x="299.56" y="291.32" width="22.71" height="5.37" fill="#DCEFF5"/>
<rect x="322.27" y="291.32" width="22.71" height="5.37" fill="#DCEFF5"/>
<rect x="344.98" y="291.32" width="22.71" height="5.37" fill="#DCEFF5"/>
<rect x="367.69" y="291.32" width="22.71" height="5.37" fill="#E5F1EA"/>
<rect x="390.40" y="291.32" width="22.71" height="5.37" fill="#FDE8AC"/>
<rect x="413.11" y="291.32" width="22.71" height="5.37" fill="#EE5745"/>
<rect x="435.82" y="291.32" width="22.71" height="5.37" fill="#FBF4C6"/>
<text x="460" y="295.50" transform="rotate(0.03 460 295.50)" font-size="5.2">Luteibacter</text>
<rect x="276.85" y="296.69" width="22.71" height="5.37" fill="#A5D6EE"/>
<rect x="299.56" y="296.69" width="22.71" height="5.37" fill="#CFE9F3"/>
<rect x="322.27" y="296.69" width="22.71" height="5.37" fill="#DCEFF5"/>
<rect x="344.98" y="296.69" width="22.71" height="5.37" fill="#F4F3D3"/>
<rect x="367.69" y="296.69" width="22.71" height="5.37" fill="#EEF3E0"/>
<rect x="390.40" y="296.69" width="22.71" height="5.37" fill="#FDE8AC"/>
<rect x="413.11" y="296.69" width="22.71" height="5.37" fill="#F99B70"/>
<rect x="435.82" y="296.69" width="22.71" height="5.37" fill="#FCB37E"/>
<text x="460" y="300.88" transform="rotate(0.03 460 300.88)" font-size="5.2">Marine_Methylotrophic_Group_2</text>
<rect x="276.85" y="302.06" width="22.71" height="5.37" fill="#A5D6EE"/>
<rect x="299.56" y="302.06" width="22.71" height="5.37" fill="#F4F3D3"/>
<rect x="322.27" y="302.06" width="22.71" height="5.37" fill="#DCEFF5"/>
<rect x="344.98" y="302.06" width="22.71" height="5.37" fill="#EEF3E0"/>
<rect x="367.69" y="302.06" width="22.71" height="5.37" fill="#E5F1EA"/>
<rect x="390.40" y="302.06" width="22.71" height="5.37" fill="#FBF4C6"/>
<rect x="413.11" y="302.06" width="22.71" height="5.37" fill="#FAA777"/>
<rect x="435.82" y="302.06" width="22.71" height="5.37" fill="#FCB37E"/>
<text x="460" y="306.25" transform="rotate(0.03 460 306.25)" font-size="5.2">pItb−vmat−59</text>
<rect x="276.85" y="307.44" width="22.71" height="5.37" fill="#5BB8E6"/>
<rect x="299.56" y="307.44" width="22.71" height="5.37" fill="#C2E3F1"/>
<rect x="322.27" y="307.44" width="22.71" height="5.37" fill="#EEF3E0"/>
<rect x="344.98" y="307.44" width="22.71" height="5.37" fill="#FBF4C6"/>
<rect x="367.69" y="307.44" width="22.71" height="5.37" fill="#FBF4C6"/>
<rect x="390.40" y="307.44" width="22.71" height="5.37" fill="#FAA777"/>
<rect x="413.11" y="307.44" width="22.71" height="5.37" fill="#FDD99B"/>
<rect x="435.82" y="307.44" width="22.71" height="5.37" fill="#FDE8AC"/>
<text x="460" y="311.62" transform="rotate(0.03 460 311.62)" font-size="5.2">Halomonas</text>
<rect x="276.85" y="312.81" width="22.71" height="5.37" fill="#B3DCEF"/>
<rect x="299.56" y="312.81" width="22.71" height="5.37" fill="#DCEFF5"/>
<rect x="322.27" y="312.81" width="22.71" height="5.37" fill="#DCEFF5"/>
<rect x="344.98" y="312.81" width="22.71" height="5.37" fill="#EEF3E0"/>
<rect x="367.69" y="312.81" width="22.71" height="5.37" fill="#FCBD86"/>
<rect x="390.40" y="312.81" width="22.71" height="5.37" fill="#F78D66"/>
<rect x="413.11" y="312.81" width="22.71" height="5.37" fill="#FBF4C6"/>
<rect x="435.82" y="312.81" width="22.71" height="5.37" fill="#FBF4C6"/>
<text x="460" y="317.00" transform="rotate(0.03 460 317.00)" font-size="5.2">[Ruminococcus]_gnavus_group</text>
<rect x="276.85" y="318.18" width="22.71" height="5.37" fill="#A5D6EE"/>
<rect x="299.56" y="318.18" width="22.71" height="5.37" fill="#C2E3F1"/>
<rect x="322.27" y="318.18" width="22.71" height="5.37" fill="#DCEFF5"/>
<rect x="344.98" y="318.18" width="22.71" height="5.37" fill="#DCEFF5"/>
<rect x="367.69" y="318.18" width="22.71" height="5.37" fill="#FCEEB9"/>
<rect x="390.40" y="318.18" width="22.71" height="5.37" fill="#FAA777"/>
<rect x="413.11" y="318.18" width="22.71" height="5.37" fill="#FBF4C6"/>
<rect x="435.82" y="318.18" width="22.71" height="5.37" fill="#FCB37E"/>
<text x="460" y="322.37" transform="rotate(0.03 460 322.37)" font-size="5.2">Halolactibacillus</text>
<rect x="276.85" y="323.56" width="22.71" height="5.37" fill="#5BB8E6"/>
<rect x="299.56" y="323.56" width="22.71" height="5.37" fill="#C2E3F1"/>
<rect x="322.27" y="323.56" width="22.71" height="5.37" fill="#FBF4C6"/>
<rect x="344.98" y="323.56" width="22.71" height="5.37" fill="#E5F1EA"/>
<rect x="367.69" y="323.56" width="22.71" height="5.37" fill="#FDC88E"/>
<rect x="390.40" y="323.56" width="22.71" height="5.37" fill="#FAA777"/>
<rect x="413.11" y="323.56" width="22.71" height="5.37" fill="#FBF4C6"/>
<rect x="435.82" y="323.56" width="22.71" height="5.37" fill="#FCEEB9"/>
<text x="460" y="327.74" transform="rotate(0.03 460 327.74)" font-size="5.2">Aerosphaera</text>
<rect x="276.85" y="328.93" width="22.71" height="5.37" fill="#DCEFF5"/>
<rect x="299.56" y="328.93" width="22.71" height="5.37" fill="#C2E3F1"/>
<rect x="322.27" y="328.93" width="22.71" height="5.37" fill="#DCEFF5"/>
<rect x="344.98" y="328.93" width="22.71" height="5.37" fill="#E5F1EA"/>
<rect x="367.69" y="328.93" width="22.71" height="5.37" fill="#FAA777"/>
<rect x="390.40" y="328.93" width="22.71" height="5.37" fill="#FAA777"/>
<rect x="413.11" y="328.93" width="22.71" height="5.37" fill="#FBF4C6"/>
<rect x="435.82" y="328.93" width="22.71" height="5.37" fill="#EEF3E0"/>
<text x="460" y="333.12" transform="rotate(0.03 460 333.12)" font-size="5.2">Intestinibacter</text>
<rect x="276.85" y="334.30" width="22.71" height="5.37" fill="#A5D6EE"/>
<rect x="299.56" y="334.30" width="22.71" height="5.37" fill="#DCEFF5"/>
<rect x="322.27" y="334.30" width="22.71" height="5.37" fill="#CFE9F3"/>
<rect x="344.98" y="334.30" width="22.71" height="5.37" fill="#C2E3F1"/>
<rect x="367.69" y="334.30" width="22.71" height="5.37" fill="#FCB37E"/>
<rect x="390.40" y="334.30" width="22.71" height="5.37" fill="#FDE8AC"/>
<rect x="413.11" y="334.30" width="22.71" height="5.37" fill="#FCEEB9"/>
<rect x="435.82" y="334.30" width="22.71" height="5.37" fill="#FCB37E"/>
<text x="460" y="338.49" transform="rotate(0.03 460 338.49)" font-size="5.2">Syntrophobacter</text>
<rect x="276.85" y="339.68" width="22.71" height="5.37" fill="#EC4A3E"/>
<rect x="299.56" y="339.68" width="22.71" height="5.37" fill="#FCEEB9"/>
<rect x="322.27" y="339.68" width="22.71" height="5.37" fill="#CFE9F3"/>
<rect x="344.98" y="339.68" width="22.71" height="5.37" fill="#CFE9F3"/>
<rect x="367.69" y="339.68" width="22.71" height="5.37" fill="#EEF3E0"/>
<rect x="390.40" y="339.68" width="22.71" height="5.37" fill="#E5F1EA"/>
<rect x="413.11" y="339.68" width="22.71" height="5.37" fill="#EEF3E0"/>
<rect x="435.82" y="339.68" width="22.71" height="5.37" fill="#FCEEB9"/>
<text x="460" y="343.86" transform="rotate(0.03 460 343.86)" font-size="5.2">Lachnospiraceae_NK4A136_group</text>
<path d="M276.85 205.35H458.53M276.85 210.72H458.53M276.85 216.10H458.53M276.85 221.47H458.53M276.85 226.84H458.53M276.85 232.22H458.53M276.85 237.59H458.53M276.85 242.96H458.53M276.85 248.33H458.53M276.85 253.71H458.53M276.85 259.08H458.53M276.85 264.45H458.53M276.85 269.83H458.53M276.85 275.20H458.53M276.85 280.57H458.53M276.85 285.94H458.53M276.85 291.32H458.53M276.85 296.69H458.53M276.85 302.06H458.53M276.85 307.44H458.53M276.85 312.81H458.53M276.85 318.18H458.53M276.85 323.56H458.53M276.85 328.93H458.53M276.85 334.30H458.53M276.85 339.68H458.53M276.85 345.05H458.53M276.85 205.35V345.05M299.56 205.35V345.05M322.27 205.35V345.05M344.98 205.35V345.05M367.69 205.35V345.05M390.40 205.35V345.05M413.11 205.35V345.05M435.82 205.35V345.05M458.53 205.35V345.05" fill="none" stroke="#9ba0a4" stroke-width="0.5"/>
<text transform="translate(289.2,354.9) rotate(-45)" font-size="6.3" letter-spacing="-1.1" text-anchor="middle">0d</text>
<text transform="translate(311.9,354.9) rotate(-45)" font-size="6.3" letter-spacing="-1.1" text-anchor="middle">3d</text>
<text transform="translate(334.6,354.9) rotate(-45)" font-size="6.3" letter-spacing="-1.1" text-anchor="middle">5d</text>
<text transform="translate(357.3,354.9) rotate(-45)" font-size="6.3" letter-spacing="-1.1" text-anchor="middle">7d</text>
<text transform="translate(380.7,354.5) rotate(-45)" font-size="6.3" text-anchor="middle">15d</text>
<text transform="translate(403.5,354.5) rotate(-45)" font-size="6.3" text-anchor="middle">21d</text>
<text transform="translate(426.2,354.5) rotate(-45)" font-size="6.3" text-anchor="middle">30d</text>
<text transform="translate(448.9,354.5) rotate(-45)" font-size="6.3" text-anchor="middle">60d</text>
</g>
<defs><linearGradient id="cb" x1="0" y1="0" x2="0" y2="1"><stop offset="0" stop-color="#EE4A3A"/><stop offset="0.12" stop-color="#F47A58"/><stop offset="0.25" stop-color="#FCB07A"/><stop offset="0.38" stop-color="#FDE0A2"/><stop offset="0.5" stop-color="#FAF6D2"/><stop offset="0.6" stop-color="#E4F1F2"/><stop offset="0.75" stop-color="#A5D6EE"/><stop offset="0.88" stop-color="#5BB8E6"/><stop offset="1" stop-color="#2A93D8"/></linearGradient></defs>
<rect x="262.6" y="203.6" width="3.2" height="50.9" fill="url(#cb)"/>
<rect x="259.9" y="203.4" width="3" height="1.1" fill="#EE4A3A"/>
<text x="267.6" y="208.70000000000002" font-size="5">2</text>
<text x="267.6" y="219.8" font-size="5">1</text>
<text x="267.6" y="230.8" font-size="5">0</text>
<text x="267.6" y="242.20000000000002" font-size="5">−1</text>
<text x="267.6" y="253.20000000000002" font-size="5">−2</text>
<rect x="535.5" y="205.9" width="3.5" height="51.8" fill="url(#cb)"/>
<text x="540.6" y="209.5" font-size="5">2</text>
<text x="540.6" y="221.0" font-size="5">1</text>
<text x="540.6" y="232.60000000000002" font-size="5">0</text>
<text x="540.6" y="244.4" font-size="5">−1</text>
<text x="540.6" y="255.9" font-size="5">−2</text>
</svg></body></html>
